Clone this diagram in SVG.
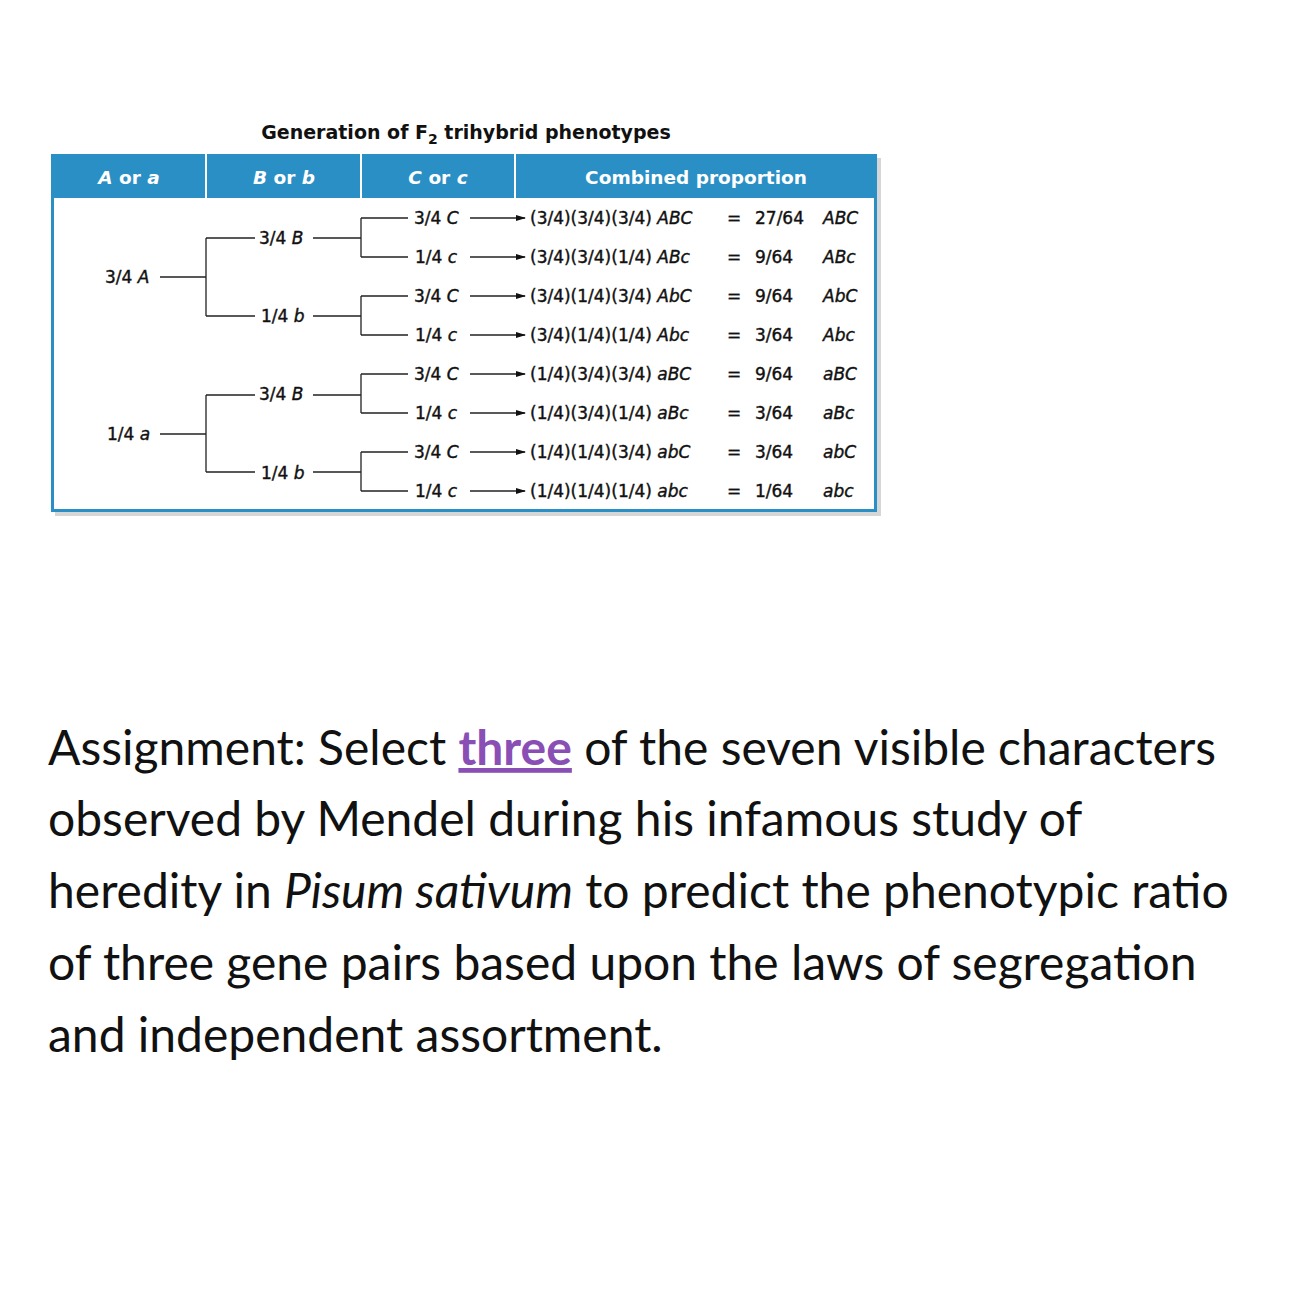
<svg xmlns="http://www.w3.org/2000/svg" width="1290" height="1290" viewBox="0 0 1290 1290">
<defs>
<style>
.t{font-family:"DejaVu Sans","Liberation Sans",sans-serif;font-size:17px;fill:#111;stroke:#111;stroke-width:0.4}
.h{font-family:"DejaVu Sans","Liberation Sans",sans-serif;font-size:18.5px;fill:#fff;font-weight:bold}
.l{stroke:#222;stroke-width:1.3;fill:none}
.p{font-family:Lato,"Open Sans",sans-serif;font-size:48px;fill:#111}
</style>
<marker id="ar" markerWidth="10" markerHeight="8" refX="9" refY="4" orient="auto" markerUnits="userSpaceOnUse"><path d="M0,1 L10,4 L0,7 Z" fill="#111"/></marker>
</defs>
<rect width="1290" height="1290" fill="#fff"/>
<text x="466" y="139" text-anchor="middle" style="font-family:'DejaVu Sans',sans-serif;font-size:19px;font-weight:bold;fill:#111">Generation of F<tspan dy="5" style="font-size:14px">2</tspan><tspan dy="-5"> trihybrid phenotypes</tspan></text>
<rect x="55" y="158" width="826" height="358" fill="#bbb" opacity="0.6"/>
<rect x="52.5" y="155.5" width="823" height="355" fill="#fff" stroke="#2a8fc4" stroke-width="3"/>
<rect x="51" y="154" width="826" height="44" fill="#2a8fc4"/>
<g stroke="#fff" stroke-width="2"><line x1="206" y1="154" x2="206" y2="198"/><line x1="361" y1="154" x2="361" y2="198"/><line x1="515" y1="154" x2="515" y2="198"/></g>
<text x="129" y="184" text-anchor="middle" class="h"><tspan font-style="italic">A</tspan> or <tspan font-style="italic">a</tspan></text>
<text x="284" y="184" text-anchor="middle" class="h"><tspan font-style="italic">B</tspan> or <tspan font-style="italic">b</tspan></text>
<text x="438" y="184" text-anchor="middle" class="h"><tspan font-style="italic">C</tspan> or <tspan font-style="italic">c</tspan></text>
<text x="696" y="184" text-anchor="middle" class="h">Combined proportion</text>
<g id="tree" class="t">
<text x="105" y="283">3/4 <tspan font-style="italic">A</tspan></text>
<text x="107" y="440">1/4 <tspan font-style="italic">a</tspan></text>
<text x="259" y="244">3/4 <tspan font-style="italic">B</tspan></text>
<text x="261" y="322">1/4 <tspan font-style="italic">b</tspan></text>
<text x="259" y="400">3/4 <tspan font-style="italic">B</tspan></text>
<text x="261" y="479">1/4 <tspan font-style="italic">b</tspan></text>
</g>
<g id="connectors" class="l">
<path d="M160,277 H206 M206,238 V316 M206,238 H255 M206,316 H255"/>
<path d="M160,434 H206 M206,395 V472 M206,395 H255 M206,472 H255"/>
<path d="M313,238 H361 M361,218 V257 M361,218 H408 M361,257 H408"/>
<path d="M313,316 H361 M361,296 V335 M361,296 H408 M361,335 H408"/>
<path d="M313,395 H361 M361,374 V413 M361,374 H408 M361,413 H408"/>
<path d="M313,472 H361 M361,452 V491 M361,452 H408 M361,491 H408"/>
<g marker-end="url(#ar)">
<line x1="470" y1="218" x2="525" y2="218"/><line x1="470" y1="257" x2="525" y2="257"/>
<line x1="470" y1="296" x2="525" y2="296"/><line x1="470" y1="335" x2="525" y2="335"/>
<line x1="470" y1="374" x2="525" y2="374"/><line x1="470" y1="413" x2="525" y2="413"/>
<line x1="470" y1="452" x2="525" y2="452"/><line x1="470" y1="491" x2="525" y2="491"/>
</g>
</g>
<g id="rows" class="t">
<text x="414" y="224">3/4 <tspan font-style="italic">C</tspan></text>
<text x="415" y="263">1/4 <tspan font-style="italic">c</tspan></text>
<text x="414" y="302">3/4 <tspan font-style="italic">C</tspan></text>
<text x="415" y="341">1/4 <tspan font-style="italic">c</tspan></text>
<text x="414" y="380">3/4 <tspan font-style="italic">C</tspan></text>
<text x="415" y="419">1/4 <tspan font-style="italic">c</tspan></text>
<text x="414" y="458">3/4 <tspan font-style="italic">C</tspan></text>
<text x="415" y="497">1/4 <tspan font-style="italic">c</tspan></text>
<text x="530" y="224">(3/4)(3/4)(3/4) <tspan font-style="italic">ABC</tspan></text>
<text x="530" y="263">(3/4)(3/4)(1/4) <tspan font-style="italic">ABc</tspan></text>
<text x="530" y="302">(3/4)(1/4)(3/4) <tspan font-style="italic">AbC</tspan></text>
<text x="530" y="341">(3/4)(1/4)(1/4) <tspan font-style="italic">Abc</tspan></text>
<text x="530" y="380">(1/4)(3/4)(3/4) <tspan font-style="italic">aBC</tspan></text>
<text x="530" y="419">(1/4)(3/4)(1/4) <tspan font-style="italic">aBc</tspan></text>
<text x="530" y="458">(1/4)(1/4)(3/4) <tspan font-style="italic">abC</tspan></text>
<text x="530" y="497">(1/4)(1/4)(1/4) <tspan font-style="italic">abc</tspan></text>
<text x="727" y="224">=</text><text x="727" y="263">=</text><text x="727" y="302">=</text><text x="727" y="341">=</text>
<text x="727" y="380">=</text><text x="727" y="419">=</text><text x="727" y="458">=</text><text x="727" y="497">=</text>
<text x="755" y="224">27/64</text><text x="755" y="263">9/64</text><text x="755" y="302">9/64</text><text x="755" y="341">3/64</text>
<text x="755" y="380">9/64</text><text x="755" y="419">3/64</text><text x="755" y="458">3/64</text><text x="755" y="497">1/64</text>
<g font-style="italic">
<text x="823" y="224">ABC</text><text x="823" y="263">ABc</text><text x="823" y="302">AbC</text><text x="823" y="341">Abc</text>
<text x="823" y="380">aBC</text><text x="823" y="419">aBc</text><text x="823" y="458">abC</text><text x="823" y="497">abc</text>
</g>
</g>
<g id="caption" class="p">
<text x="48" y="765">Assignment: Select <tspan fill="#8a4fb5" font-weight="bold" text-decoration="underline">three</tspan> of the seven visible characters</text>
<text x="48" y="836">observed by Mendel during his infamous study of</text>
<text x="48" y="908">heredity in <tspan font-style="italic">Pisum sativum</tspan> to predict the phenotypic ratio</text>
<text x="48" y="980">of three gene pairs based upon the laws of segregation</text>
<text x="48" y="1052">and independent assortment.</text>
</g>
</svg>
